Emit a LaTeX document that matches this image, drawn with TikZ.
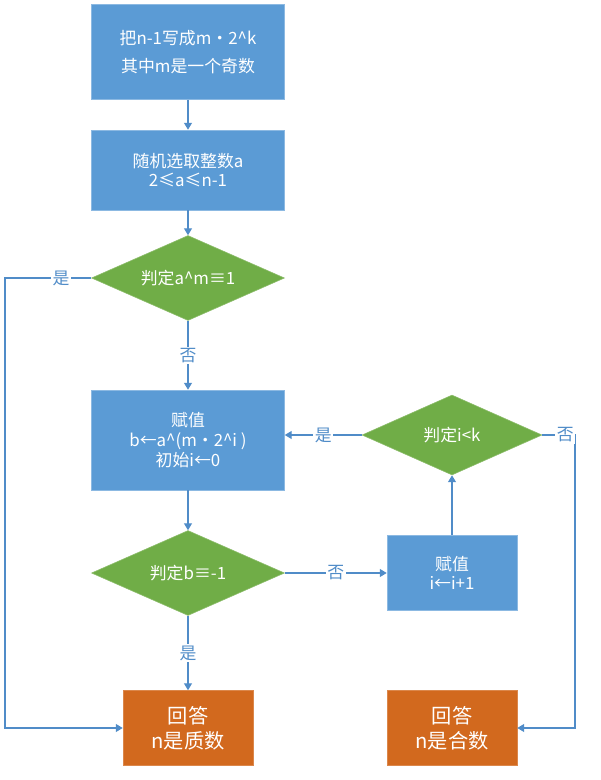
\documentclass[tikz,border=0pt]{standalone}
\usepackage{fontspec}
\setmainfont{Noto Sans CJK SC}
\definecolor{FlowBlue}{RGB}{91,155,213}
\definecolor{FlowGreen}{RGB}{112,173,71}
\definecolor{FlowOrange}{RGB}{210,105,30}
\definecolor{LineBlue}{RGB}{80,140,200}
\usetikzlibrary{shapes.geometric,arrows.meta,positioning,calc}
\begin{document}
\begin{tikzpicture}[x=0.025cm,y=-0.025cm,
    proc/.style={draw=FlowBlue!70,fill=FlowBlue,text=white,font=\large,
                 minimum width=193*0.025cm,align=center,inner sep=2pt},
    test/.style={diamond,aspect=2.25,draw=FlowGreen!80,fill=FlowGreen,text=white,
                 font=\large,minimum width=193*0.025cm,minimum height=85*0.025cm,inner sep=0pt},
    stop/.style={draw=FlowOrange!80,fill=FlowOrange,text=white,font=\Large,
                 minimum width=130*0.025cm,minimum height=75*0.025cm,align=center},
    lbl/.style={fill=white,text=LineBlue,font=\large,inner sep=1pt},
    arr/.style={-Triangle,LineBlue,thick}]
    \useasboundingbox (0,0) rectangle (600,780);
    \node[proc,minimum height=95*0.025cm] (split) at (188,52) {把n-1写成m·2\^{}k\\[6pt]其中m是一个奇数};
    \node[proc,minimum height=80*0.025cm] (pick) at (188,170) {随机选取整数a\\2≤a≤n-1};
    \node[test] (am) at (188,278) {判定a\^{}m≡1};
    \node[proc,minimum height=100*0.025cm] (setb) at (188,440) {赋值\\b←a\^{}(m·2\^{}i )\\初始i←0};
    \node[test] (bm) at (188,573) {判定b≡-1};
    \node[proc,minimum width=130*0.025cm,minimum height=75*0.025cm] (inc) at (452,573) {赋值\\i←i+1};
    \node[test,minimum width=180*0.025cm,minimum height=80*0.025cm] (ik) at (452,435) {判定i<k};
    \node[stop] (prime) at (188,728) {回答\\n是质数};
    \node[stop] (comp) at (452,728) {回答\\n是合数};

    \draw[arr] (split)--(pick); \draw[arr] (pick)--(am);
    \draw[arr] (am)--node[lbl]{否}(setb);
    \draw[arr] (am.west)--node[lbl,pos=0.35]{是}(5,278)--(5,728)--(prime.west);
    \draw[arr] (setb)--(bm);
    \draw[arr] (bm)--node[lbl]{否}(inc);
    \draw[arr] (bm)--node[lbl]{是}(prime);
    \draw[arr] (inc)--(ik);
    \draw[arr] (ik)--node[lbl]{是}(setb.east|-ik);
    \draw[arr] (ik.east)--node[lbl,pos=0.7]{否}(575,435)--(575,728)--(comp.east);
\end{tikzpicture}
\end{document}
